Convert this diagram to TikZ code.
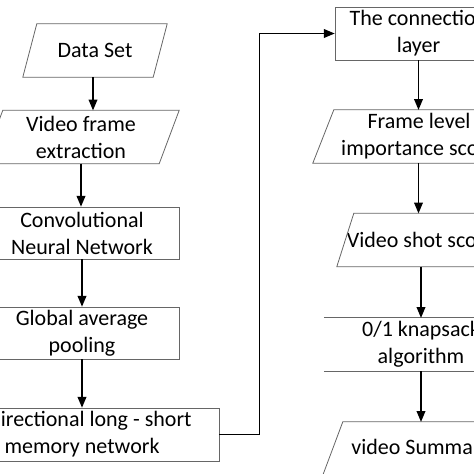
\documentclass[tikz,border=0pt]{standalone}
\usepackage{fontspec}
\setmainfont{Carlito}
\usepackage{tikz}
\usepgflibrary{arrows}

\begin{document}
\begin{tikzpicture}[x=1pt,y=-1pt,
    every node/.style={font=\fontsize{22}{27}\selectfont,align=center,inner sep=0pt,minimum height=53pt},
    outline/.style={draw=black!60,line width=0.8pt},
    flow/.style={->,>=triangle 45,line width=1.5pt}]
  \useasboundingbox (0,0) rectangle (474,474);
  \clip (0,0) rectangle (474,474);
  % left column
  \node[minimum width=130pt] (ds) at (95,50.5) {Data Set};
  \node[minimum width=176pt] (vfe) at (81,137) {Video frame\\extraction};
  \node[outline,minimum width=194pt,minimum height=52pt] (cnn) at (82,233) {Convolutional\\Neural Network};
  \node[outline,minimum width=194pt,minimum height=52pt] (gap) at (82,333) {Global average\\pooling};
  \node[outline,minimum width=274pt] (bil) at (82,434.5) {Bidirectional long - short\\memory network};
  % right column
  \node[outline,minimum width=167pt] (con) at (418.5,33.5) {The connection\\layer};
  \node[minimum width=191pt] (fls) at (419,136.5) {Frame level\\importance score};
  \node[minimum width=151pt] (vss) at (421,240) {Video shot score};
  \node[minimum width=194pt] (ks) at (421,344.5) {0/1 knapsack\\algorithm};
  \node[minimum width=176pt] (sum) at (421,448.5) {video Summary};
  % slanted boxes
  \foreach \n/\s in {ds/7,vfe/10,fls/10.5,vss/8.5,sum/10} {
    \draw[outline] ([xshift=\s pt]\n.north west) -- ([xshift=\s pt]\n.north east)
      -- ([xshift=-\s pt]\n.south east) -- ([xshift=-\s pt]\n.south west) -- cycle;
  }
  \draw[outline] (ks.north west) -- (ks.north east) (ks.south west) -- (ks.south east);
  % arrows
  \draw[flow] ([xshift=-2pt]ds.south) -- ([xshift=-2pt]ds.south |- vfe.north);
  \draw[flow] (vfe.south) -- (vfe.south |- cnn.north);
  \draw[flow] (cnn.south) -- (gap.north);
  \draw[flow] (gap.south) -- (bil.north);
  \draw[flow] (bil.east) -- ++(40,0) |- (con.west);
  \draw[flow] (con.south) -- (con.south |- fls.north);
  \draw[flow] (fls.south -| con.south) -- (con.south |- vss.north);
  \draw[flow] (vss.south) -- (ks.north);
  \draw[flow] (ks.south) -- (sum.north);
\end{tikzpicture}
\end{document}
